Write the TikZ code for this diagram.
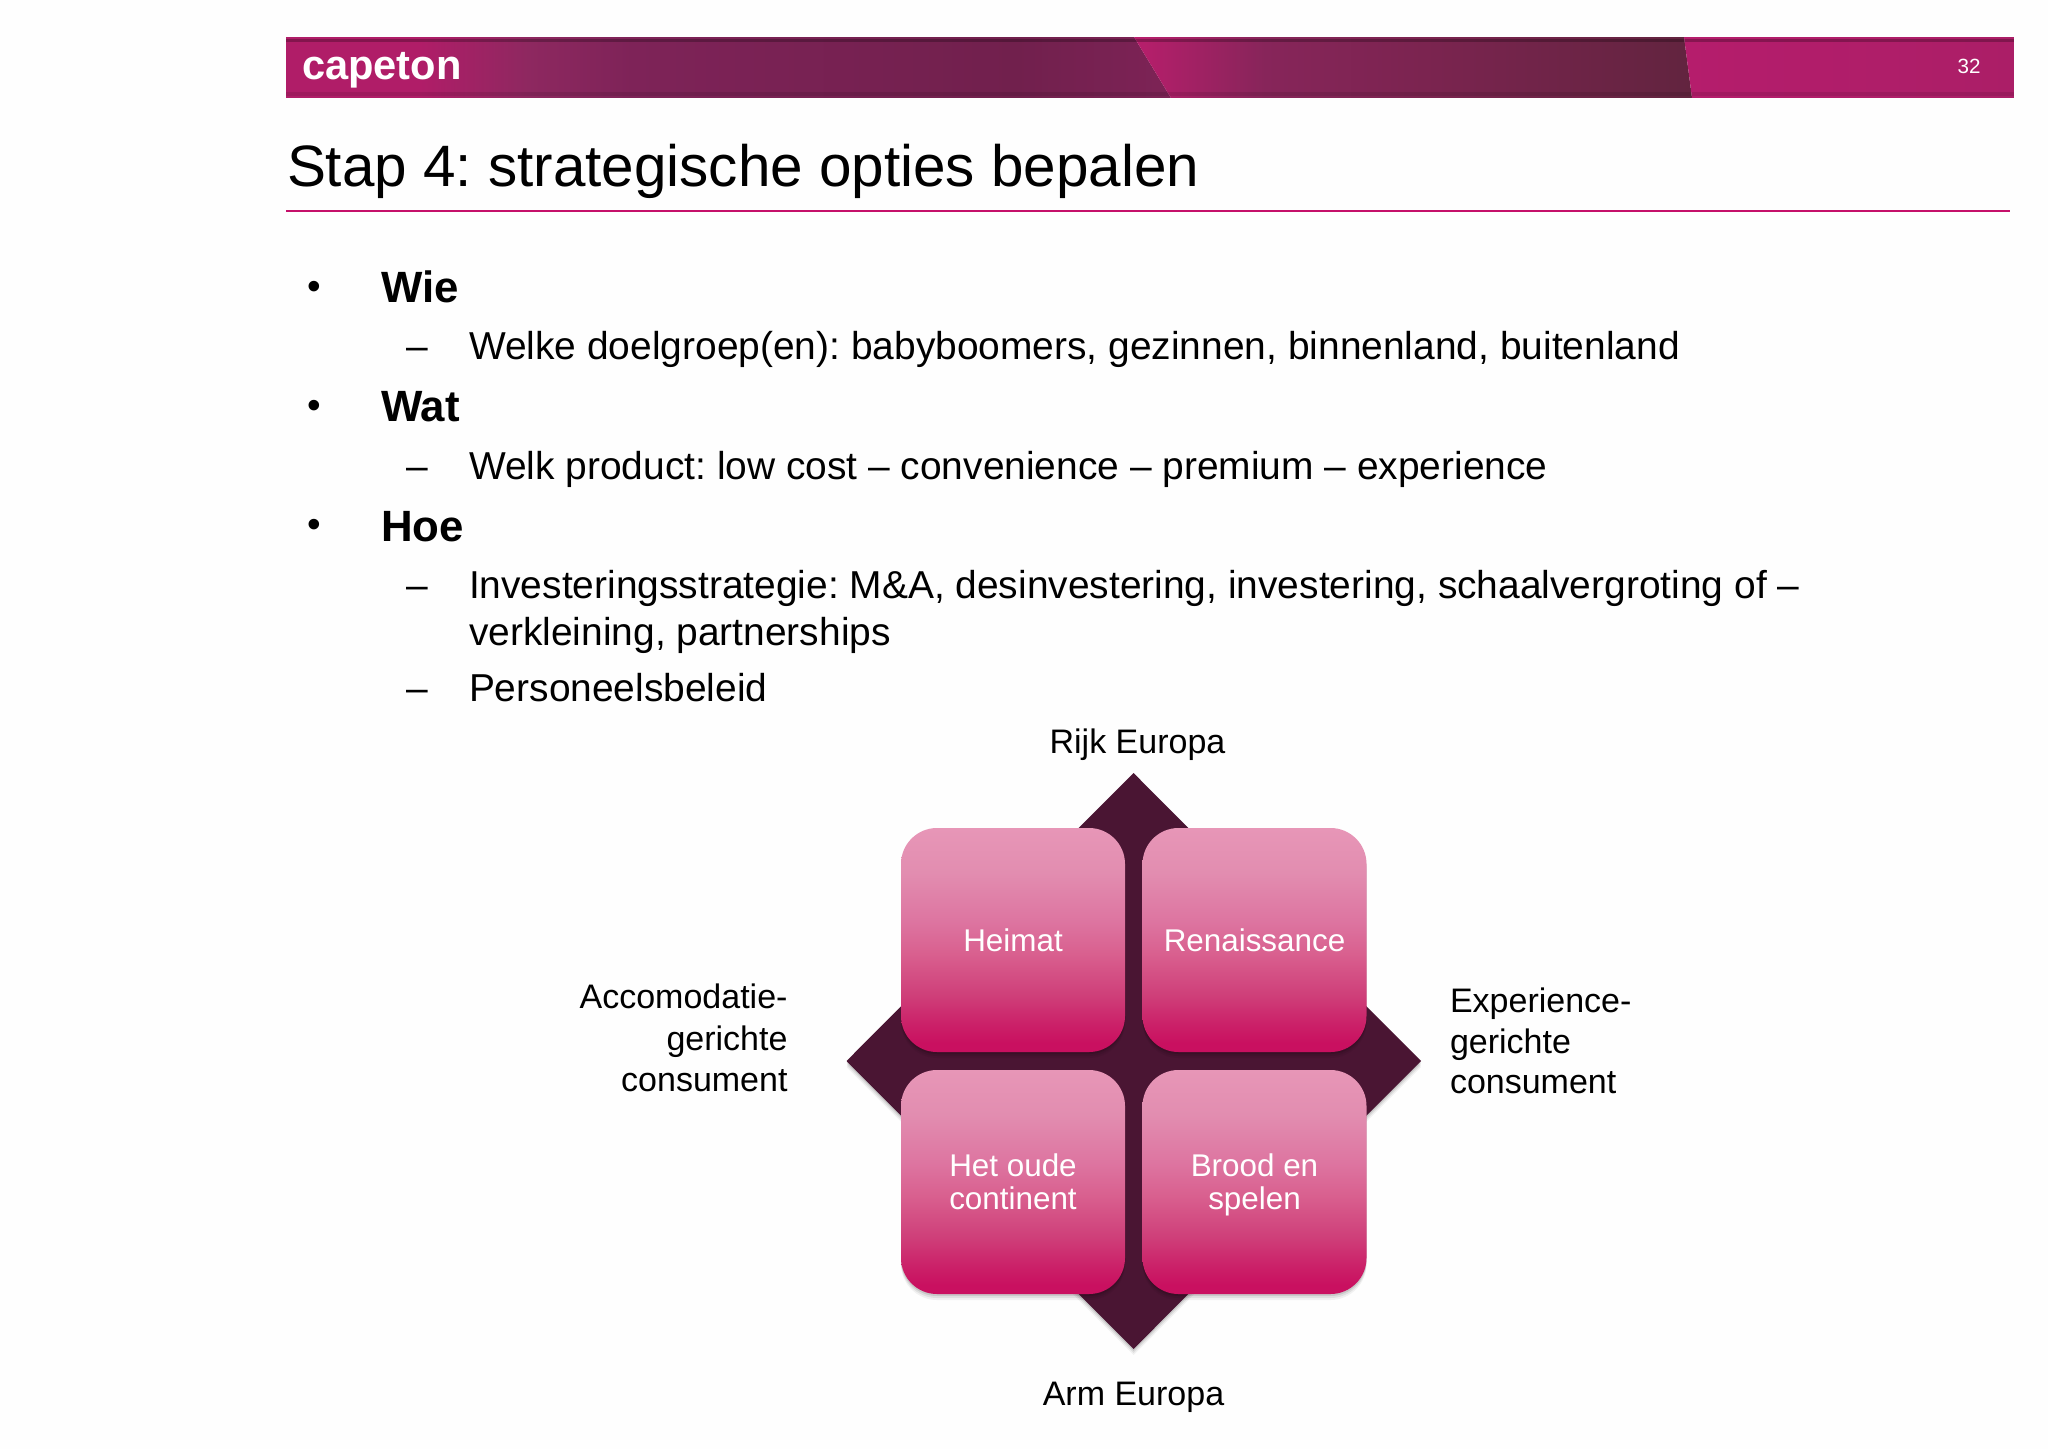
\documentclass[tikz,border=0pt]{standalone}
\usepackage{fontspec}
\setmainfont{Liberation Sans}
\frenchspacing
\usetikzlibrary{shadows}
\definecolor{bgc}{HTML}{FEFEFE}
\definecolor{diam}{HTML}{4A1533}
\definecolor{rulec}{HTML}{C5106A}
\definecolor{bA}{HTML}{B01D68}
\definecolor{bB}{HTML}{8E2860}
\definecolor{bC}{HTML}{7E2358}
\definecolor{bD}{HTML}{71204D}
\definecolor{bE}{HTML}{7D2356}
\definecolor{bF}{HTML}{B81E6C}
\definecolor{bG}{HTML}{87255A}
\definecolor{bH}{HTML}{7A244F}
\definecolor{bI}{HTML}{62243F}
\definecolor{bJ}{HTML}{B51D6C}
\definecolor{bK}{HTML}{AB1E67}
\definecolor{gA}{HTML}{E796B7}
\definecolor{gB}{HTML}{E28DB0}
\definecolor{gC}{HTML}{DD74A0}
\definecolor{gD}{HTML}{D9608F}
\definecolor{gE}{HTML}{CF407A}
\definecolor{gF}{HTML}{CB2068}
\definecolor{gG}{HTML}{C91060}
\pgfdeclareverticalshading{boxgrad}{100bp}{
 color(0bp)=(gG);
 color(25bp)=(gG);
 color(27bp)=(gG);
 color(31bp)=(gF);
 color(38bp)=(gE);
 color(47bp)=(gD);
 color(54bp)=(gC);
 color(65bp)=(gB);
 color(75bp)=(gA);
 color(100bp)=(gA)}
\tikzset{
 x=0.5pt,y=-0.5pt,
 txt/.style={inner sep=0pt,outer sep=0pt,anchor=base west,text=black},
 lvlone/.style={txt,font=\fontsize{21.9pt}{26pt}\selectfont\bfseries},
 lvltwo/.style={txt,font=\fontsize{19.46pt}{23pt}\selectfont},
 axislab/.style={inner sep=0pt,outer sep=0pt,font=\fontsize{17pt}{15.6pt}\selectfont,text=black},
 softshadow/.style={
   general shadow={shadow xshift=0pt,shadow yshift=-1pt,opacity=.10,fill=black},
   general shadow={shadow xshift=0pt,shadow yshift=-2pt,opacity=.07,fill=black},
   general shadow={shadow xshift=0pt,shadow yshift=-3pt,opacity=.05,fill=black}},
 cell/.style={rectangle,rounded corners=18pt,minimum width=112pt,minimum height=112pt,inner sep=0pt,
   shading=boxgrad,text=white,align=center,font=\fontsize{15.7pt}{16.4pt}\selectfont,softshadow}
}
\begin{document}
\begin{tikzpicture}
\useasboundingbox (0,0) rectangle (2048,1449);
\fill[bgc] (0,0) rectangle (2048,1449);
% banner
\fill[bA] (286,37) rectangle (421,98);
\shade[left color=bA,right color=bB] (420,37) rectangle (528,98);
\shade[left color=bB,right color=bC] (527,37) rectangle (632,98);
\shade[left color=bC,right color=bD] (631,37) rectangle (1016,98);
\shade[left color=bD,right color=bE] (1015,37) -- (1134,37) -- (1171,98) -- (1015,98) -- cycle;
\shade[left color=bF,right color=bG] (1134,37) -- (1265,37) -- (1265,98) -- (1171,98) -- cycle;
\shade[left color=bG,right color=bH] (1264,37) rectangle (1437,98);
\shade[left color=bH,right color=bI] (1436,37) -- (1684,37) -- (1692,98) -- (1436,98) -- cycle;
\shade[left color=bJ,right color=bK] (1684,37) -- (2014,37) -- (2014,98) -- (1692,98) -- cycle;
\fill[black,opacity=.25] (286,39) rectangle (2014,42);
\fill[black,opacity=.1] (286,92) rectangle (2014,96);
\fill[bgc] (280,28) rectangle (2025,37);
\fill[bgc] (280,98) rectangle (2025,104);
\fill[bgc] (2014,28) rectangle (2025,104);
\node[txt,text=white,font=\fontsize{20.8pt}{24pt}\selectfont\bfseries] (logo) at (302,80) {capeton};
\node[inner sep=0pt,anchor=base,text=white,font=\fontsize{10.3pt}{12pt}\selectfont] (page) at (1969,74) {32};
% title
\node[txt,font=\fontsize{29.2pt}{34pt}\selectfont] (title) at (287,187) {Stap 4: strategische opties bepalen};
\coordinate (ruleL) at (286,211);
\coordinate (ruleR) at (2010,211);
\draw[rulec,line width=1.4pt] (ruleL) -- (ruleR);
% bullets
\node[lvltwo] (b1) at (307,299.5) {•};
\node[lvlone] (t1) at (381,303) {Wie};
\node[lvltwo] (d1) at (406,359.5) {–};
\node[lvltwo] (t1a) at (469,359.5) {Welke doelgroep(en): babyboomers, gezinnen, binnenland, buitenland};
\node[lvltwo] (b2) at (307,418.5) {•};
\node[lvlone] (t2) at (381,421) {Wat};
\node[lvltwo] (d2) at (406,479) {–};
\node[lvltwo] (t2a) at (469,479) {Welk product: low cost – convenience – premium – experience};
\node[lvltwo] (b3) at (307,537.5) {•};
\node[lvlone] (t3) at (381,541) {Hoe};
\node[lvltwo] (d3) at (406,598) {–};
\node[lvltwo] (t3a) at (469,598) {Investeringsstrategie: M\&A, desinvestering, investering, schaalvergroting of –};
\node[lvltwo] (t3b) at (469,645) {verkleining, partnerships};
\node[lvltwo] (d4) at (406,701) {–};
\node[lvltwo] (t3c) at (469,701) {Personeelsbeleid};
% axis labels
\node[axislab,anchor=base] (north) at (1137.5,753) {Rijk Europa};
\node[axislab,anchor=base] (south) at (1133.5,1405.5) {Arm Europa};
\node[axislab,anchor=base east] (west) at (787.5,1008.7) {Accomodatie-};
\node[axislab,anchor=base east] (west2) at (787.5,1050) {gerichte};
\node[axislab,anchor=base east] (west3) at (787.5,1091) {consument};
\node[axislab,anchor=base west] (east) at (1450,1012.2) {Experience-};
\node[axislab,anchor=base west] (east2) at (1450,1053.2) {gerichte};
\node[axislab,anchor=base west] (east3) at (1450,1093.7) {consument};
% diamond
\fill[diam,softshadow]
  (1133.5,773) -- (1421,1061) -- (1133.5,1349) -- (846.5,1061) -- cycle;
% cells
\node[cell] (heimat) at (1013,940) {Heimat};
\node[cell] (ren) at (1254.5,940) {Renaissance};
\node[cell] (oude) at (1013,1182) {Het oude\\continent};
\node[cell] (brood) at (1254.5,1182) {Brood en\\\smash{spelen}};
\end{tikzpicture}
\end{document}
